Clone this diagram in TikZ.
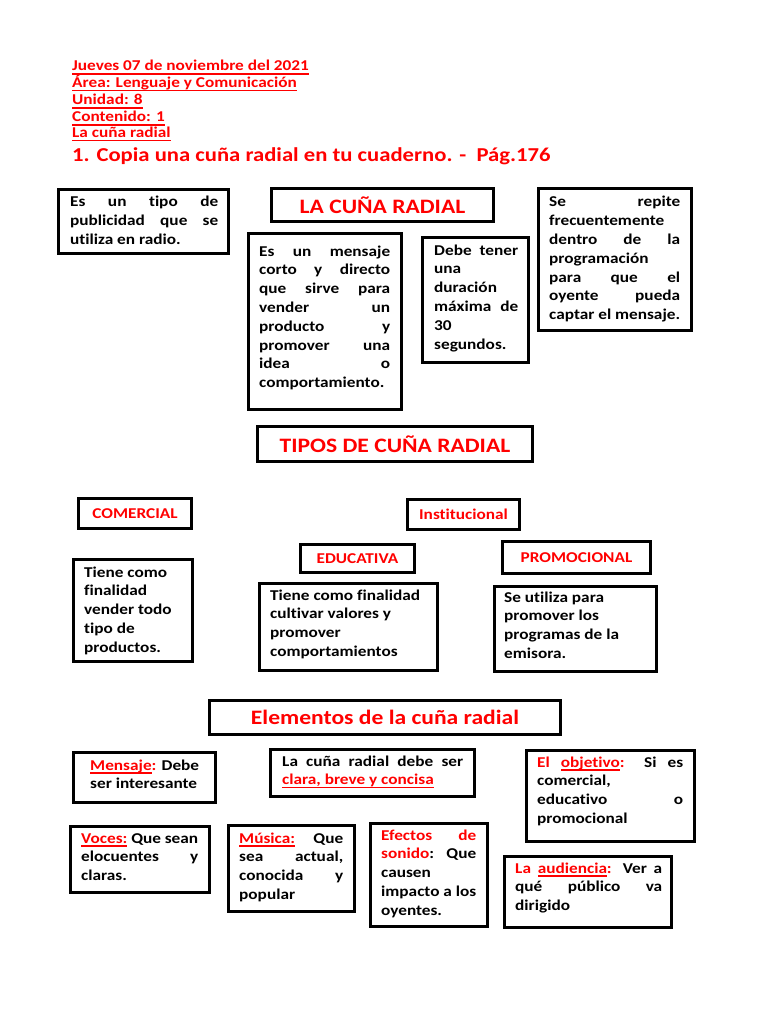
\documentclass[tikz,border=0pt]{standalone}
\usepackage{fontspec}
\setmainfont{Carlito}[FakeStretch=1.15, Ligatures={NoCommon}]
\definecolor{rd}{RGB}{255,0,0}
\newcommand\uline[1]{\setbox0\hbox{#1}\rlap{\smash{\rule[-3.6pt]{\wd0}{1.2pt}}}\box0}
\newcommand\J[1]{\makebox[\linewidth][s]{#1}}
\newcommand\R[1]{\textcolor{rd}{#1}}
\newcommand\RU[1]{\textcolor{rd}{\uline{#1}}}
\newcommand\bodyf{\bfseries\fontsize{15}{18.8}\selectfont}
\newcommand\headf{\bfseries\fontsize{15}{16.8}\selectfont}
\newcommand\titlef{\bfseries\fontsize{19.7}{24}\selectfont}
\newcommand\bigf{\bfseries\fontsize{20.5}{24}\selectfont}
\newcommand\bxn[5]{\node[bx, minimum width={#4-#2-3}, minimum height={#5-#3-3}] (#1) at ({(#2+#4)/2},{(#3+#5)/2}) {};}
\newcommand\lbx[7]{\node[bx, minimum width={#4-#2-3}, minimum height={#5-#3-3}, text=rd, font=#6, text depth=0pt] (#1) at ({(#2+#4)/2},{(#3+#5)/2}) {#7};}
\begin{document}
\begin{tikzpicture}[x=1pt,y=-1pt,
  bx/.style={draw=black, line width=3pt, inner sep=0pt},
  txt/.style={inner sep=0pt, anchor=base west, font=\bodyf, text=black}]
\fill[white] (0,0) rectangle (768,1024);
\useasboundingbox (0,0) rectangle (768,1024);
% header
\node[txt, font=\headf, text=rd] (h1) at (72,71) {\uline{Jueves 07 de noviembre del 2021}};
\node[txt, font=\headf, text=rd] (h2) at (72,87.7) {\uline{Área: Lenguaje y Comunicación}};
\node[txt, font=\headf, text=rd] (h3) at (72,105) {\uline{Unidad: 8}};
\node[txt, font=\headf, text=rd] (h4) at (72,122) {\uline{Contenido: 1}};
\node[txt, font=\headf, text=rd] (h5) at (72,137.5) {\uline{La cuña radial}};
\node[txt, font=\titlef, text=rd] (tt) at (72,162) {1. Copia una cuña radial en tu cuaderno. -\ \ Pág.176};
% top row
\bxn{bA}{57}{188}{230}{255}
\node[txt] (tA) at (70,207) {\parbox[t]{148pt}{\J{Es un tipo de}\\\J{publicidad que se}\\utiliza en radio.}};
\lbx{lc}{270}{187}{495}{223}{\bigf}{LA CUÑA RADIAL}
\bxn{bB}{247}{232}{403}{411}
\node[txt] (tB) at (259,256) {\parbox[t]{131pt}{\J{Es un mensaje}\\\J{corto y directo}\\\J{que sirve para}\\\J{vender un}\\\J{producto y}\\\J{promover una}\\\J{idea o}\\comportamiento.}};
\bxn{bC}{421}{236}{530}{364}
\node[txt] (tC) at (434,255) {\parbox[t]{84pt}{\J{Debe tener}\\una\\duración\\\J{máxima de}\\30\\segundos.}};
\bxn{bD}{537}{187}{693}{332}
\node[txt] (tD) at (549,207) {\parbox[t]{131pt}{\J{Se repite}\\frecuentemente\\\J{dentro de la}\\programación\\\J{para que el}\\\J{oyente pueda}\\captar el mensaje.}};
% tipos
\lbx{tp}{256}{425}{534}{463}{\bigf}{TIPOS DE CUÑA RADIAL}
\lbx{cm}{77}{497}{193}{530}{\bodyf}{COMERCIAL}
\lbx{in}{406}{498}{521}{531}{\bodyf}{Institucional}
\lbx{ed}{299}{543}{416}{574}{\bodyf}{EDUCATIVA}
\lbx{pr}{501}{540}{652}{575}{\bodyf}{PROMOCIONAL}
\bxn{bcm}{72}{558}{194}{663}
\node[txt] (tcm) at (84,577) {\parbox[t]{104pt}{Tiene como\\finalidad\\vender todo\\tipo de\\productos.}};
\bxn{bed}{258}{582}{439}{672}
\node[txt] (ted) at (270,600) {\parbox[t]{164pt}{Tiene como finalidad\\cultivar valores y\\promover\\comportamientos}};
\bxn{bpr}{493}{585}{658}{673}
\node[txt] (tpr) at (504,602) {\parbox[t]{150pt}{Se utiliza para\\promover los\\programas de la\\emisora.}};
% elementos
\lbx{el}{208}{699}{562}{736}{\bigf}{Elementos de la cuña radial}
\bxn{bms}{72}{751}{217}{804}
\node[txt] (tms) at (90,770) {\parbox[t]{115pt}{\RU{Mensaje}\R{:} Debe\\ser interesante}};
\bxn{bcr}{269}{748}{476}{798}
\node[txt] (tcr) at (282,766) {\parbox[t]{181pt}{\J{La cuña radial debe ser}\\\RU{clara, breve y concisa}}};
\bxn{bob}{525}{749}{696}{843}
\node[txt] (tob) at (537,767) {\parbox[t]{146pt}{\J{\R{El} \RU{objetivo}\R{:} Si es}\\comercial,\\\J{educativo o}\\promocional}};
\bxn{bvo}{69}{825}{211}{894}
\node[txt] (tvo) at (81,843) {\parbox[t]{117pt}{\J{\RU{Voces:} Que sean}\\\J{elocuentes y}\\claras.}};
\bxn{bmu}{227}{824}{356}{913}
\node[txt] (tmu) at (239,843) {\parbox[t]{104pt}{\J{\RU{Música:} Que}\\\J{sea actual,}\\\J{conocida y}\\popular}};
\bxn{bef}{369}{822}{489}{928}
\node[txt] (tef) at (381,840) {\parbox[t]{95pt}{\J{\R{Efectos} \R{de}}\\\J{\R{sonido}: Que}\\causen\\impacto a los\\oyentes.}};
\bxn{bau}{503}{855}{673}{929}
\node[txt] (tau) at (515,873) {\parbox[t]{147pt}{\J{\R{La} \RU{audiencia}\R{:} Ver a}\\\J{qué público va}\\dirigido}};
\end{tikzpicture}
\end{document}
